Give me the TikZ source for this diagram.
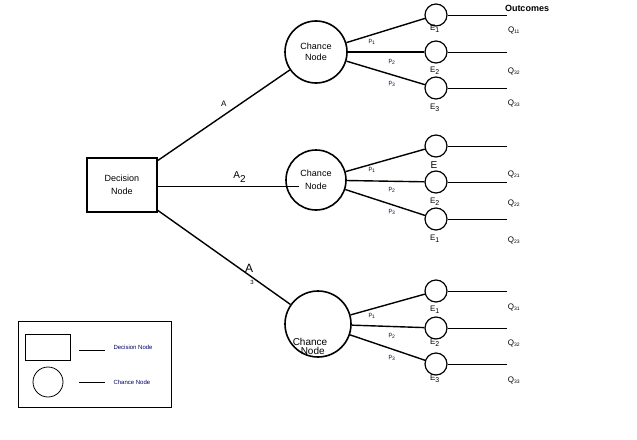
\documentclass[tikz,border=0pt]{standalone}
\usepackage{fontspec}
\setmainfont{Liberation Sans}
\begin{document}
\begin{tikzpicture}[x=1pt,y=-1pt]
\tikzstyle{decision}=[draw,line width=1.6pt,minimum width=70pt,minimum height=54pt,font=\fontsize{9}{11}\selectfont,align=center]
\tikzstyle{chance}=[draw,circle,line width=1.6pt,inner sep=0pt,font=\fontsize{9}{11}\selectfont,align=center]
\tikzstyle{event}=[draw,circle,line width=1.2pt,minimum size=22pt,inner sep=0pt]
\tikzstyle{branch}=[line width=1.4pt]
\tikzstyle{lbl}=[font=\fontsize{8}{9}\selectfont,text=black]
\tikzstyle{prob}=[font=\fontsize{6}{7}\selectfont,text=blue!30!black]
\useasboundingbox (0,0) rectangle (637,439);
\node [decision] (dec) at (122,185) {Decision\\[2pt]Node};
\node [chance,minimum size=62pt] (c1) at (316,52) {Chance\\Node};
\node [chance,minimum size=60pt] (c2) at (316,180) {Chance\\[2pt]Node};
\node [chance,minimum size=66pt] (c3) at (318,324) {};
\node [font=\fontsize{10}{11}\selectfont,align=left] (c3t) at (310,346) {Chance\\[-2pt]\hspace*{8pt}Node};
% events
\foreach \g/\y in {1/15,2/52,3/88,4/146,5/182,6/219,7/291,8/328,9/364}{
  \node [event] (e\g) at (436,\y) {};
  \coordinate (q\g) at (507,\y);
  \draw [line width=1pt] (e\g) -- (q\g);
}
\coordinate (a2end) at (299,186);
\draw [branch] (dec) -- node [lbl,pos=0.55,above left] {A} (c1);
\draw [line width=0.8pt] (dec.east |- a2end) -- node [lbl,pos=0.58,above,font=\fontsize{10}{11}\selectfont] {A$_{\textrm{2}}$} (a2end);
\draw [branch] (dec) -- (c3);
\node [font=\fontsize{12}{13}\selectfont] (a3) at (249,268) {A};
\node [font=\fontsize{6}{7}\selectfont] (a3s) at (252,282) {3};
\foreach \c/\a/\b/\d/\o in {c1/e1/e2/e3/0,c2/e4/e5/e6/128,c3/e7/e8/e9/274}{
  \draw [branch] (\c) -- (\a);
  \draw [branch] (\c) -- (\b);
  \draw [branch] (\c) -- (\d);
  \node [prob] at (372,42+\o) {p$_\textrm{\tiny 1}$};
  \node [prob] at (392,62+\o) {p$_\textrm{\tiny 2}$};
  \node [prob] at (392,84+\o) {p$_\textrm{\tiny 3}$};
}
% event labels
\foreach \g/\y/\s in {1/29/1,2/71/2,3/108/3,5/202/2,6/239/1,7/310/1,8/343/2,9/379/3}{
  \node [lbl] at (435,\y) {E$_{\textrm{\scriptsize\s}}$};
}
\node [lbl,font=\fontsize{10}{11}\selectfont] at (434,165) {E};
% outcomes
\node [font=\bfseries\fontsize{9}{10}\selectfont] (out) at (527,8) {Outcomes};
\foreach \y/\s in {30/11,71/{\tiny{}32},103/{\tiny{}33},174/21,203/22,240/23,307/31,343/32,380/33}{
  \node [lbl] at (514,\y) {Q$_{\textrm{\tiny\s}}$};
}
% legend
\draw [line width=0.8pt] (18,321) rectangle (171,407);
\node [draw,line width=0.8pt,minimum width=45pt,minimum height=26pt] (ld) at (48,347) {};
\node [draw,circle,line width=0.8pt,minimum size=30pt] (lc) at (48,382) {};
\coordinate (ld1) at (79,350); \coordinate (ld2) at (105,350);
\coordinate (lc1) at (79,382); \coordinate (lc2) at (105,382);
\draw (ld1) -- (ld2);
\draw (lc1) -- (lc2);
\node [font=\fontsize{6}{7}\selectfont,text=blue!40!black,anchor=west] at (110,347) {Decision Node};
\node [font=\fontsize{6}{7}\selectfont,text=blue!40!black,anchor=west] at (110,382) {Chance Node};
\end{tikzpicture}
\end{document}
